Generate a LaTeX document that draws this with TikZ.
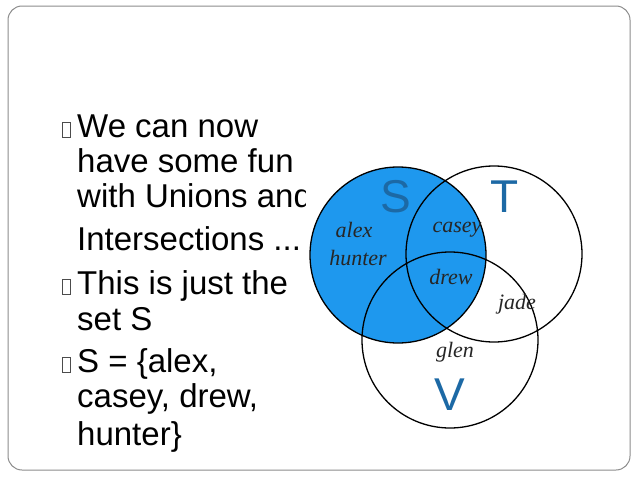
\documentclass[tikz,border=0pt]{standalone}
\usepackage{fontspec}
\setmainfont{Liberation Sans}
\newfontfamily\hand{Liberation Serif}
\definecolor{sblue}{RGB}{30,152,238}
\definecolor{lblue}{RGB}{28,105,165}
\begin{document}
\begin{tikzpicture}[x=1pt,y=-1pt,
  txt/.style={anchor=base west,inner sep=0,font=\fontsize{33}{35}\selectfont},
  bul/.style={draw=black!70,line width=0.4pt,minimum width=8pt,minimum height=15pt,inner sep=0,anchor=south west},
  nm/.style={font=\hand\itshape\fontsize{22}{24}\selectfont,text=black!85},
  big/.style={font=\fontsize{46}{48}\selectfont,text=lblue},
  ring/.style={draw=black,line width=1.3pt}]
\useasboundingbox (0,0) rectangle (638,479);
\draw[black!45,line width=1pt,rounded corners=14pt] (8,6) rectangle (630,470);
\node[txt] (l1) at (77,137) {We can now};
\node[txt] (l2) at (77,172) {have some fun};
\node[txt] (l3) at (77,207) {with Unions and};
\node[txt] (l4) at (77,250) {Intersections ...};
\node[txt] (l5) at (77,294) {This is just the};
\node[txt] (l6) at (77,330) {set S};
\node[txt] (l7) at (77,372) {S = \{alex,};
\node[txt] (l8) at (77,407) {casey, drew,};
\node[txt] (l9) at (77,445) {hunter\}};
\node[bul] (b1) at (62,137) {};
\node[bul] (b2) at (62,294) {};
\node[bul] (b3) at (62,372) {};
\fill[white] (306,140) rectangle (340,215);
\fill[white] (494,254) circle (88);
\fill[white] (450,340) circle (88);
\fill[sblue] (398,255) circle (88);
\node[ring,circle,minimum size=176pt] (S) at (398,255) {};
\node[ring,circle,minimum size=176pt] (T) at (494,254) {};
\node[ring,circle,minimum size=176pt] (V) at (450,340) {};
\node[big] (ls) at (396,197) {S};
\node[big] (lt) at (505,197) {T};
\node[big] (lv) at (450,395) {V};
\node[nm] (a) at (354,230) {alex};
\node[nm] (h) at (358,258) {hunter};
\node[nm] (c) at (457,230) {casey};
\node[nm] (d) at (451,277) {drew};
\node[nm] (j) at (517,304) {jade};
\node[nm] (g) at (455,352) {glen};
\end{tikzpicture}
\end{document}
